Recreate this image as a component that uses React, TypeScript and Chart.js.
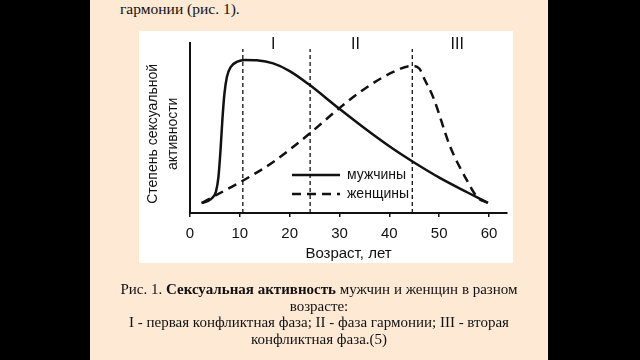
import React, { useEffect, useRef } from "react";
import { Chart, registerables } from "chart.js";

Chart.register(...registerables);

const menAges = [2.3, 3.5, 4.5, 5.2, 5.7, 6.1, 6.5, 6.9, 7.4, 8.2, 9.5, 11, 13.4, 16.7, 20, 23.7, 30.1, 35.5, 40.8, 44.8, 50.2, 55.6, 59.8];
const menValues = [5.9, 7, 9, 12.5, 21, 36, 55, 70, 80, 86, 89, 90, 89.8, 88, 83.5, 76, 61, 48.8, 37.6, 30, 20.5, 12.2, 5.9];

const womenAges = [2.4, 4.6, 10, 16.7, 23.7, 30.1, 35.5, 40.8, 44.5, 46, 47, 48.8, 52.2, 55.6, 57.6, 59.8];
const womenValues = [5.9, 9.5, 18, 30, 46, 62, 74, 83, 86.5, 85, 79, 68, 39, 19, 9.4, 5.9];

const phaseBounds = [10.6, 24.1, 44.6];
const phaseTop = 96.5;
const phaseLabels = ["I", "II", "III"];
const phaseLabelAges = [16.7, 33.2, 53.6];

const xTicks = [0, 10, 20, 30, 40, 50, 60];
const legendLabels = ["мужчины", "женщины"];

const INK = "#111";
const NARROW = "'Liberation Sans Narrow', 'Liberation Sans', Arial, sans-serif";

export default function App() {
  const ref = useRef<HTMLCanvasElement | null>(null);

  useEffect(() => {
    if (!ref.current) return;
    const toPts = (xs: number[], ys: number[]) => xs.map((x, i) => ({ x, y: ys[i] }));

    const overlay = {
      id: "overlay",
      afterDatasetsDraw(chart: any) {
        const { ctx, chartArea, scales } = chart;
        const xs = scales.x;
        ctx.save();
        ctx.fillStyle = INK;
        ctx.font = `16px ${NARROW}`;
        ctx.textAlign = "center";
        ctx.textBaseline = "middle";
        phaseLabels.forEach((t, i) => {
          ctx.fillText(t, xs.getPixelForValue(phaseLabelAges[i]), chartArea.top + 2);
        });
        // legend
        const lx0 = chartArea.left + 102;
        const lx1 = chartArea.left + 150;
        const ly = [chartArea.top + 132, chartArea.top + 151];
        ctx.strokeStyle = INK;
        ctx.lineWidth = 2.4;
        ctx.setLineDash([]);
        ctx.beginPath();
        ctx.moveTo(lx0, ly[0]);
        ctx.lineTo(lx1, ly[0]);
        ctx.stroke();
        ctx.setLineDash([9, 6]);
        ctx.beginPath();
        ctx.moveTo(lx0, ly[1]);
        ctx.lineTo(lx1, ly[1]);
        ctx.stroke();
        ctx.setLineDash([]);
        ctx.font = `14px ${NARROW}`;
        ctx.textAlign = "left";
        legendLabels.forEach((t, i) => ctx.fillText(t, lx1 + 7, ly[i]));
        ctx.restore();
      },
    };

    const phaseSets = phaseBounds.map((b) => ({
      label: "phase",
      data: [
        { x: b, y: 0 },
        { x: b, y: phaseTop },
      ],
      borderColor: INK,
      borderWidth: 1.3,
      borderDash: [4, 3],
      pointRadius: 0,
      tension: 0,
    }));

    const chart = new Chart(ref.current, {
      type: "line",
      data: {
        datasets: [
          {
            label: "мужчины",
            data: toPts(menAges, menValues),
            borderColor: INK,
            borderWidth: 2.5,
            pointRadius: 0,
            cubicInterpolationMode: "monotone",
          },
          {
            label: "женщины",
            data: toPts(womenAges, womenValues),
            borderColor: INK,
            borderWidth: 2.5,
            borderDash: [9, 6],
            pointRadius: 0,
            cubicInterpolationMode: "monotone",
          },
          ...phaseSets,
        ] as any,
      },
      options: {
        responsive: false,
        animation: false,
        devicePixelRatio: 1,
        layout: { padding: { left: 143, top: 43, right: 133, bottom: 97 } },
        plugins: { legend: { display: false }, tooltip: { enabled: false } },
        scales: {
          x: {
            type: "linear",
            min: 0,
            max: 63.6,
            position: "bottom",
            grid: { display: true, drawOnChartArea: false, drawTicks: true, tickLength: 4, color: INK, lineWidth: 1.5 },
            border: { display: true, color: INK, width: 2 },
            ticks: { color: INK, padding: 8, font: { family: NARROW, size: 15 } },
            afterBuildTicks: (axis: any) => {
              axis.ticks = xTicks.map((v) => ({ value: v }));
            },
            afterFit: (s: any) => {
              s.height = 50;
            },
            title: {
              display: true,
              text: "Возраст, лет",
              color: INK,
              padding: 0,
              font: { family: NARROW, size: 15 },
            },
          },
          y: {
            type: "linear",
            min: 0,
            max: 100,
            grid: { display: false, drawTicks: false },
            border: { display: true, color: INK, width: 2 },
            ticks: { display: false },
            afterFit: (s: any) => {
              s.width = 47;
            },
            title: {
              display: true,
              text: ["Степень сексуальной   ", "активности   "],
              color: INK,
              padding: 0,
              font: { family: NARROW, size: 14, lineHeight: 20 / 14 },
            },
          },
        },
      } as any,
      plugins: [overlay],
    });
    return () => chart.destroy();
  }, []);

  const serif = "'Liberation Serif', 'Times New Roman', serif";
  return (
    <div style={{ position: "fixed", left: 0, top: 0, width: 640, height: 360, background: "#000", overflow: "hidden" }}>
      <div style={{ position: "absolute", left: 90, top: 0, width: 458, height: 360, background: "#fde9d4" }} />
      <div
        style={{
          position: "absolute",
          left: 120,
          top: 0,
          fontFamily: serif,
          fontSize: 15.5,
          lineHeight: "18px",
          color: "#111",
          whiteSpace: "nowrap",
        }}
      >
        гармонии (рис. 1).
      </div>
      <div style={{ position: "absolute", left: 139, top: 31, width: 374, height: 232, background: "#fff" }} />
      <canvas ref={ref} width={640} height={360} style={{ position: "absolute", left: 0, top: 0, width: 640, height: 360 }} />
      <div
        style={{
          position: "absolute",
          left: 90,
          top: 281,
          width: 458,
          textAlign: "center",
          fontFamily: serif,
          fontSize: 15,
          lineHeight: "16.5px",
          color: "#111",
        }}
      >
        Рис. 1. <b>Сексуальная активность</b> мужчин и женщин в разном
        <br />
        возрасте:
        <br />I - первая конфликтная фаза; II - фаза гармонии; III - вторая
        <br />
        конфликтная фаза.(5)
      </div>
    </div>
  );
}
